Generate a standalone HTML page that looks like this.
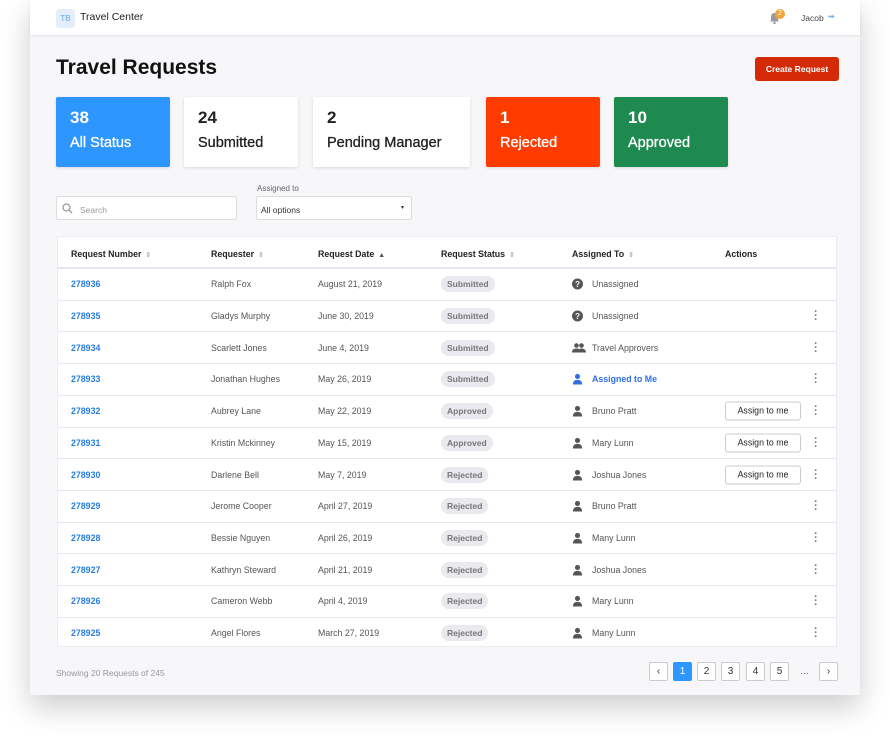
<!DOCTYPE html>
<html><head><meta charset="utf-8"><style>
*{box-sizing:border-box;margin:0;padding:0}
body{width:890px;height:736px;background:#fff;font-family:"Liberation Sans",sans-serif;position:relative;overflow:hidden;color:#333}
.card{position:absolute;left:30px;top:0;width:830px;height:695px;background:#f7f7fa;box-shadow:0 12px 28px rgba(0,0,0,.2)}
.hdr{position:absolute;left:0;top:0;width:830px;height:35px;background:#fff;box-shadow:0 1px 3px rgba(0,0,0,.08)}
.a{position:absolute;white-space:nowrap}
.stat{position:absolute;top:97px;height:70px;border-radius:2px;background:#fff;box-shadow:0 1px 3px rgba(0,0,0,.12);padding:10px 0 0 14px;color:#222}
.stat b{display:block;font-size:17px;line-height:22px}
.stat span{display:block;font-size:14.5px;margin-top:6px;-webkit-text-stroke:0.3px currentColor}
.tbl{position:absolute;left:27px;top:236px;width:780px;height:411px;background:#fff;border:1px solid #ebebf0}
.row{position:absolute;left:0;width:778px;height:31.7px;border-top:1px solid #e6e7ee;font-size:8.8px;color:#555}
.row .a{top:50%;transform:translateY(-50%)}
.num{left:13px;color:#2a7de1;font-weight:bold}
.c2{left:153px}.c3{left:260px}
.pill{left:383px;background:#e9e9ee;border-radius:8px;padding:3px 6px;color:#777;font-size:8.5px;font-weight:bold}
.c5{left:534px}
.ic{left:514px;width:11px;height:11px}
.dots{left:756px;color:#777;font-size:11px;font-weight:bold;line-height:4px;width:4px;text-align:center}
.btn{left:667px;width:76px;height:19px;border:1px solid #ccc;border-radius:3px;font-size:8.8px;color:#222;text-align:center;line-height:17px;background:#fff}
.th{font-size:8.8px;font-weight:bold;color:#222;top:12px}
.th i{color:#bbb;font-style:normal;font-size:7px;margin-left:4px}
.pg{position:absolute;top:662px;width:19px;height:19px;border:1px solid #ccc;border-radius:2px;background:#fff;font-size:10px;text-align:center;line-height:17px;color:#333}
</style></head><body>
<div class="card">
<div class="hdr">
 <div class="a" style="left:26px;top:9px;width:19px;height:19px;background:#e4eef8;border-radius:3px;color:#5aaaf0;font-size:8px;text-align:center;line-height:19px">TB</div>
 <div class="a" style="left:50px;top:11px;font-size:10.5px;color:#222">Travel Center</div>
 <svg class="a" style="left:739px;top:12px" width="11" height="12" viewBox="0 0 11 12"><path d="M5.5 1C3 1 2 3 2 5v3L1 9.5h9L9 8V5c0-2-1-4-3.5-4z" fill="#999"/><circle cx="5.5" cy="11" r="1.2" fill="#999"/></svg>
 <div class="a" style="left:745px;top:9px;width:10px;height:10px;border-radius:5px;background:#f2a33a;color:#fff;font-size:7px;text-align:center;line-height:10px">2</div>
 <div class="a" style="left:771px;top:13px;font-size:8.5px;color:#444">Jacob</div>
 <div class="a" style="left:798px;top:12px;font-size:8px;color:#7ab4f0">➡</div>
</div>
<div class="a" style="left:26px;top:56px;font-size:21px;font-weight:bold;color:#111">Travel Requests</div>
<div class="a" style="left:725px;top:57px;width:84px;height:24px;background:#d52a06;border-radius:3px;color:#fff;font-size:8.5px;font-weight:bold;text-align:center;line-height:24px">Create Request</div>
<div class="stat" style="left:26px;width:114px;background:#2e96ff;color:#fff"><b>38</b><span>All Status</span></div>
<div class="stat" style="left:154px;width:114px"><b>24</b><span>Submitted</span></div>
<div class="stat" style="left:283px;width:157px"><b>2</b><span>Pending Manager</span></div>
<div class="stat" style="left:456px;width:114px;background:#ff3b00;color:#fff"><b>1</b><span>Rejected</span></div>
<div class="stat" style="left:584px;width:114px;background:#1e8a4f;color:#fff"><b>10</b><span>Approved</span></div>
<div class="a" style="left:26px;top:196px;width:181px;height:24px;background:#fff;border:1px solid #ddd;border-radius:2px"></div>
<svg class="a" style="left:32px;top:203px" width="11" height="11"><circle cx="4.5" cy="4.5" r="3.5" stroke="#999" stroke-width="1.3" fill="none"/><path d="M7 7l3 3" stroke="#999" stroke-width="1.3"/></svg>
<div class="a" style="left:50px;top:205px;font-size:8.5px;color:#999">Search</div>
<div class="a" style="left:227px;top:184px;font-size:8px;color:#666">Assigned to</div>
<div class="a" style="left:226px;top:196px;width:156px;height:24px;background:#fff;border:1px solid #ddd;border-radius:2px"></div>
<div class="a" style="left:231px;top:205px;font-size:8.5px;color:#333">All options</div>
<div class="a" style="left:371px;top:204px;font-size:6px;color:#333">▾</div>
<div class="tbl">
 <div class="a th" style="left:13px">Request Number<i>⇕</i></div>
 <div class="a th" style="left:153px">Requester<i>⇕</i></div>
 <div class="a th" style="left:260px">Request Date<i style="color:#555">▲</i></div>
 <div class="a th" style="left:383px">Request Status<i>⇕</i></div>
 <div class="a th" style="left:514px">Assigned To<i>⇕</i></div>
 <div class="a th" style="left:667px">Actions</div>
 <div class="a" style="left:0;top:30px;width:778px;height:2px;background:#e6e7ee"></div>

 <div class="row" style="top:31px"><div class="a num">278936</div><div class="a c2">Ralph Fox</div><div class="a c3">August 21, 2019</div><div class="a pill">Submitted</div><svg class="a ic" viewBox="0 0 12 12"><circle cx="6" cy="6" r="6" fill="#555"/><text x="6" y="9.5" font-size="9" fill="#fff" text-anchor="middle" font-family="Liberation Sans" font-weight="bold">?</text></svg><div class="a c5">Unassigned</div></div>
 <div class="row" style="top:62.7px"><div class="a num">278935</div><div class="a c2">Gladys Murphy</div><div class="a c3">June 30, 2019</div><div class="a pill">Submitted</div><svg class="a ic" viewBox="0 0 12 12"><circle cx="6" cy="6" r="6" fill="#555"/><text x="6" y="9.5" font-size="9" fill="#fff" text-anchor="middle" font-family="Liberation Sans" font-weight="bold">?</text></svg><div class="a c5">Unassigned</div><div class="a dots">·<br>·<br>·</div></div>
 <div class="row" style="top:94.4px"><div class="a num">278934</div><div class="a c2">Scarlett Jones</div><div class="a c3">June 4, 2019</div><div class="a pill">Submitted</div><svg class="a ic" style="width:14px" viewBox="0 0 14 11"><circle cx="4.5" cy="3" r="2.3" fill="#555"/><circle cx="9.5" cy="3" r="2.3" fill="#555"/><path d="M0 10c0-3 2-4 4.5-4s4.5 1 4.5 4zM6 10c0-3 1.5-4 3.5-4s4.5 1 4.5 4z" fill="#555"/></svg><div class="a c5">Travel Approvers</div><div class="a dots">·<br>·<br>·</div></div>
 <div class="row" style="top:126.1px"><div class="a num">278933</div><div class="a c2">Jonathan Hughes</div><div class="a c3">May 26, 2019</div><div class="a pill">Submitted</div><svg class="a ic" viewBox="0 0 12 12"><circle cx="6" cy="3.2" r="2.8" fill="#2f6fe6"/><path d="M1 12c0-4 2.5-5 5-5s5 1 5 5z" fill="#2f6fe6"/></svg><div class="a c5" style="color:#2f6fe6;font-weight:bold">Assigned to Me</div><div class="a dots">·<br>·<br>·</div></div>
 <div class="row" style="top:157.8px"><div class="a num">278932</div><div class="a c2">Aubrey Lane</div><div class="a c3">May 22, 2019</div><div class="a pill">Approved</div><svg class="a ic" viewBox="0 0 12 12"><circle cx="6" cy="3.2" r="2.8" fill="#555"/><path d="M1 12c0-4 2.5-5 5-5s5 1 5 5z" fill="#555"/></svg><div class="a c5">Bruno Pratt</div><div class="a btn">Assign to me</div><div class="a dots">·<br>·<br>·</div></div>
 <div class="row" style="top:189.5px"><div class="a num">278931</div><div class="a c2">Kristin Mckinney</div><div class="a c3">May 15, 2019</div><div class="a pill">Approved</div><svg class="a ic" viewBox="0 0 12 12"><circle cx="6" cy="3.2" r="2.8" fill="#555"/><path d="M1 12c0-4 2.5-5 5-5s5 1 5 5z" fill="#555"/></svg><div class="a c5">Mary Lunn</div><div class="a btn">Assign to me</div><div class="a dots">·<br>·<br>·</div></div>
 <div class="row" style="top:221.2px"><div class="a num">278930</div><div class="a c2">Darlene Bell</div><div class="a c3">May 7, 2019</div><div class="a pill">Rejected</div><svg class="a ic" viewBox="0 0 12 12"><circle cx="6" cy="3.2" r="2.8" fill="#555"/><path d="M1 12c0-4 2.5-5 5-5s5 1 5 5z" fill="#555"/></svg><div class="a c5">Joshua Jones</div><div class="a btn">Assign to me</div><div class="a dots">·<br>·<br>·</div></div>
 <div class="row" style="top:252.9px"><div class="a num">278929</div><div class="a c2">Jerome Cooper</div><div class="a c3">April 27, 2019</div><div class="a pill">Rejected</div><svg class="a ic" viewBox="0 0 12 12"><circle cx="6" cy="3.2" r="2.8" fill="#555"/><path d="M1 12c0-4 2.5-5 5-5s5 1 5 5z" fill="#555"/></svg><div class="a c5">Bruno Pratt</div><div class="a dots">·<br>·<br>·</div></div>
 <div class="row" style="top:284.6px"><div class="a num">278928</div><div class="a c2">Bessie Nguyen</div><div class="a c3">April 26, 2019</div><div class="a pill">Rejected</div><svg class="a ic" viewBox="0 0 12 12"><circle cx="6" cy="3.2" r="2.8" fill="#555"/><path d="M1 12c0-4 2.5-5 5-5s5 1 5 5z" fill="#555"/></svg><div class="a c5">Many Lunn</div><div class="a dots">·<br>·<br>·</div></div>
 <div class="row" style="top:316.3px"><div class="a num">278927</div><div class="a c2">Kathryn Steward</div><div class="a c3">April 21, 2019</div><div class="a pill">Rejected</div><svg class="a ic" viewBox="0 0 12 12"><circle cx="6" cy="3.2" r="2.8" fill="#555"/><path d="M1 12c0-4 2.5-5 5-5s5 1 5 5z" fill="#555"/></svg><div class="a c5">Joshua Jones</div><div class="a dots">·<br>·<br>·</div></div>
 <div class="row" style="top:348px"><div class="a num">278926</div><div class="a c2">Cameron Webb</div><div class="a c3">April 4, 2019</div><div class="a pill">Rejected</div><svg class="a ic" viewBox="0 0 12 12"><circle cx="6" cy="3.2" r="2.8" fill="#555"/><path d="M1 12c0-4 2.5-5 5-5s5 1 5 5z" fill="#555"/></svg><div class="a c5">Mary Lunn</div><div class="a dots">·<br>·<br>·</div></div>
 <div class="row" style="top:379.7px"><div class="a num">278925</div><div class="a c2">Angel Flores</div><div class="a c3">March 27, 2019</div><div class="a pill">Rejected</div><svg class="a ic" viewBox="0 0 12 12"><circle cx="6" cy="3.2" r="2.8" fill="#555"/><path d="M1 12c0-4 2.5-5 5-5s5 1 5 5z" fill="#555"/></svg><div class="a c5">Many Lunn</div><div class="a dots">·<br>·<br>·</div></div>
</div>
<div class="a" style="left:26px;top:668px;font-size:8.5px;color:#999">Showing 20 Requests of 245</div>
<div class="pg" style="left:619px">‹</div>
<div class="pg" style="left:643px;background:#2e96ff;border-color:#2e96ff;color:#fff">1</div>
<div class="pg" style="left:667px">2</div>
<div class="pg" style="left:691px">3</div>
<div class="pg" style="left:716px">4</div>
<div class="pg" style="left:740px">5</div>
<div class="a" style="left:770px;top:666px;font-size:9px;color:#555">…</div>
<div class="pg" style="left:789px">›</div>
</div>
</body></html>
